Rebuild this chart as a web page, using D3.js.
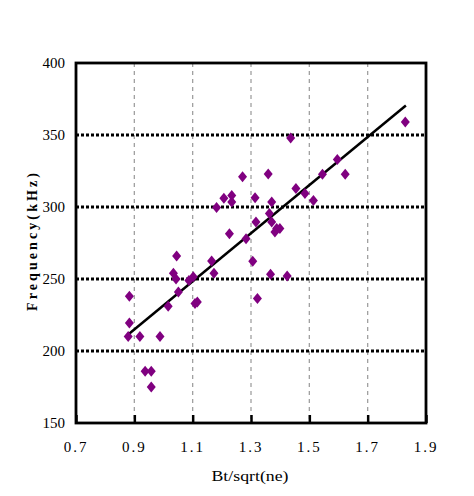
<html>
<head>
<meta charset="utf-8">
<script src="https://cdn.jsdelivr.net/npm/d3@7"></script>
<style>
  body { margin: 0; background: #fff; }
  text { font-family: "Liberation Serif", serif; fill: #000; }
</style>
</head>
<body>
<div id="chart"></div>
<script>
var ratio = [0.883, 0.883, 0.879, 0.919, 0.988, 0.937, 0.958, 0.958, 1.016, 1.045,
             1.034, 1.043, 1.051, 1.087, 1.102, 1.108, 1.116, 1.165, 1.173, 1.271,
             1.359, 1.207, 1.234, 1.234, 1.182, 1.314, 1.371, 1.226, 1.283, 1.317,
             1.363, 1.371, 1.388, 1.399, 1.382, 1.306, 1.367, 1.424, 1.322, 1.454,
             1.485, 1.514, 1.829, 1.596, 1.545, 1.623, 1.436];
var freq  = [238, 219.5, 210, 210, 210, 186, 186, 175, 231, 266,
             254, 250, 241, 249, 251.5, 233, 234, 262.5, 254, 321,
             323, 306, 308, 303.5, 299.6, 306.5, 303.5, 281.5, 278, 289.6,
             295.4, 289.6, 285, 285, 282.6, 262.3, 253.3, 252, 236.5, 312.8,
             309.3, 304.6, 359, 333, 322.7, 322.7, 348];

// trend line ends
var fitX = [0.879, 1.831];
var fitY = [211.5, 370.5];

var xTicks = [0.7, 0.9, 1.1, 1.3, 1.5, 1.7, 1.9];
var yTicks = [150, 200, 250, 300, 350, 400];

var W = 474, H = 496;
var pLeft = 76, pRight = 426, pTop = 63, pBottom = 423;

var svg = d3.select("#chart").append("svg")
  .attr("width", W).attr("height", H);

var x = d3.scaleLinear().domain([0.7, 1.9]).range([pLeft, pRight]);
var y = d3.scaleLinear().domain([150, 400]).range([pBottom, pTop]);

// vertical grey dashed grid
svg.selectAll(".vgrid")
  .data(xTicks.slice(1, -1))
  .enter().append("line")
    .attr("x1", function (d) { return x(d); })
    .attr("x2", function (d) { return x(d); })
    .attr("y1", pTop).attr("y2", pBottom)
    .attr("stroke", "#a0a0a0")
    .attr("stroke-width", 1.3)
    .attr("stroke-dasharray", "4,4");

// horizontal black dotted grid
svg.selectAll(".hgrid")
  .data(yTicks.slice(1, -1))
  .enter().append("line")
    .attr("x1", pLeft).attr("x2", pRight)
    .attr("y1", function (d) { return y(d); })
    .attr("y2", function (d) { return y(d); })
    .attr("stroke", "#000")
    .attr("stroke-width", 3)
    .attr("stroke-dasharray", "3,2");

// plot frame
svg.append("rect")
  .attr("x", pLeft).attr("y", pTop)
  .attr("width", pRight - pLeft).attr("height", pBottom - pTop)
  .attr("fill", "none")
  .attr("stroke", "#000")
  .attr("stroke-width", 2.8);

// bottom axis: inward ticks
var xAxis = d3.axisBottom(x)
  .tickValues(xTicks)
  .tickSize(-8)
  .tickFormat("");
var gx = svg.append("g")
  .attr("transform", "translate(0," + pBottom + ")")
  .call(xAxis);
gx.select(".domain").remove();
gx.selectAll(".tick line").attr("stroke", "#000").attr("stroke-width", 2.5);

svg.selectAll(".xlab")
  .data(xTicks)
  .enter().append("text")
    .attr("x", function (d) { return x(d); })
    .attr("y", 452)
    .attr("text-anchor", "middle")
    .style("font-size", "15px")
    .style("letter-spacing", "2px")
    .text(function (d) { return d3.format(".1f")(d); });

svg.selectAll(".ylab")
  .data(yTicks)
  .enter().append("text")
    .attr("x", 65)
    .attr("y", function (d) { return y(d) + 5; })
    .attr("text-anchor", "end")
    .style("font-size", "15px")
    .text(function (d) { return d; });

// axis titles
svg.append("text")
  .attr("x", 250).attr("y", 481)
  .attr("text-anchor", "middle")
  .attr("textLength", 77)
  .attr("lengthAdjust", "spacingAndGlyphs")
  .style("font-size", "15px")
  .text("Bt/sqrt(ne)");

svg.append("text")
  .attr("transform", "translate(37,242) rotate(-90)")
  .attr("text-anchor", "middle")
  .attr("textLength", 138)
  .attr("lengthAdjust", "spacing")
  .style("font-size", "14px")
  .style("font-weight", "bold")
  .text("Frequency(kHz)");

// trend line
var line = d3.line()
  .x(function (d) { return x(d[0]); })
  .y(function (d) { return y(d[1]); });
svg.append("path")
  .datum(d3.zip(fitX, fitY))
  .attr("d", line)
  .attr("fill", "none")
  .attr("stroke", "#000")
  .attr("stroke-width", 2.5);

// diamonds
var diamond = "M0,-5.5L4.5,0L0,5.5L-4.5,0Z";
svg.selectAll(".pt")
  .data(d3.zip(ratio, freq))
  .enter().append("path")
    .attr("d", diamond)
    .attr("transform", function (d) { return "translate(" + x(d[0]) + "," + y(d[1]) + ")"; })
    .attr("fill", "#800080");
</script>
</body>
</html>
